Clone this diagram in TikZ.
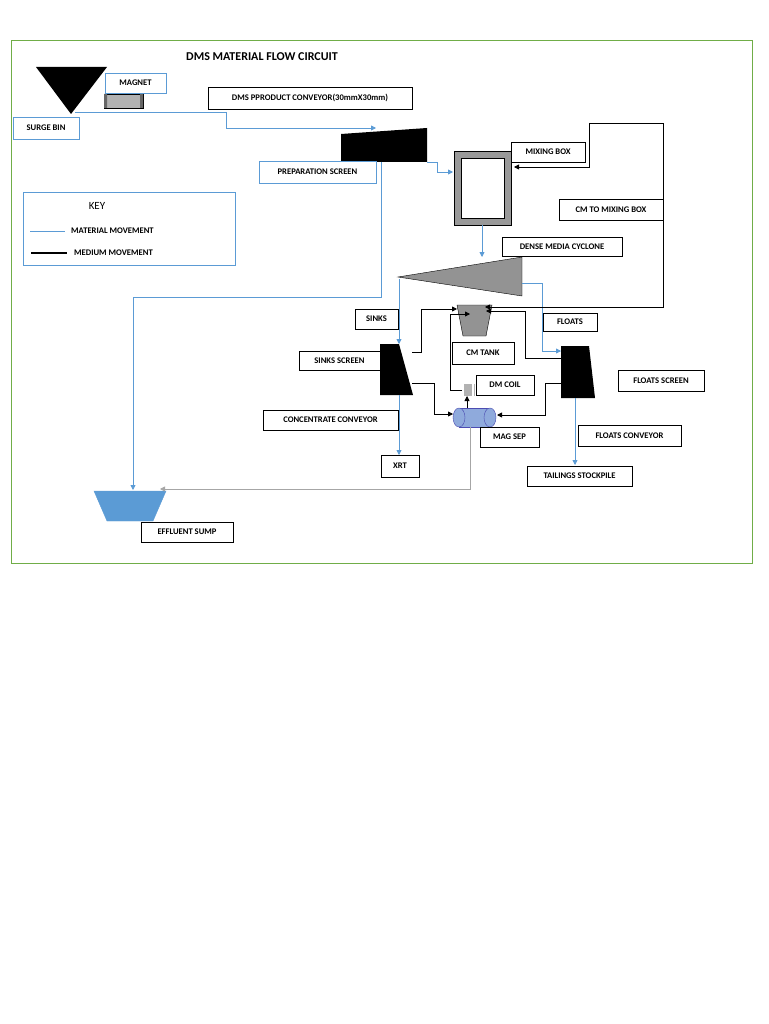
\documentclass[tikz,border=0pt]{standalone}
\usepackage{fontspec}
\setmainfont{Carlito}
\usetikzlibrary{arrows.meta}
\definecolor{mat}{RGB}{91,155,213}
\definecolor{frm}{RGB}{112,173,71}
\definecolor{msep}{RGB}{143,170,220}
\begin{document}
\begin{tikzpicture}[x=1pt,y=-1pt,
 lbl/.style={draw=black,line width=0.8pt,fill=white,font=\fontsize{8.6}{9}\selectfont\bfseries,inner sep=0pt},
 blbl/.style={lbl,draw=mat},
 mat/.style={draw=mat,line width=0.8pt,-{Triangle[length=5pt,width=5pt]}},
 med/.style={draw=black,line width=0.8pt,-{Triangle[length=5pt,width=5pt]}},
 matn/.style={draw=mat,line width=0.8pt},
 medn/.style={draw=black,line width=0.8pt}]
\useasboundingbox (0,0) rectangle (768,1024);
\fill[white] (0,0) rectangle (768,1024);
\draw[frm,line width=1pt] (11,41) rectangle (752,563);
\node[font=\fontsize{12}{13}\selectfont\bfseries] (title) at (262,57) {DMS MATERIAL FLOW CIRCUIT};
% equipment
\fill (36,67) -- (107,67) -- (71,114) -- cycle;
\draw[fill=gray!60] (104,94) rectangle (143,108);
\fill[black!60] (104,94) rectangle (107,108) (140,94) rectangle (143,108);
\fill (341,134) -- (427,128) -- (427,162) -- (341,162) -- cycle;
\draw[fill=gray!80] (454,151) rectangle (511,225);
\draw[fill=white] (461,158) rectangle (504,218);
\draw[fill=gray!85] (398,277) -- (522,257) -- (522,296) -- cycle;
\fill (380,344) -- (399,344) -- (413,395) -- (380,395) -- cycle;
\fill (561,346) -- (589,346) -- (595,398) -- (561,398) -- cycle;
\draw[fill=gray!85] (457,305) -- (492,305) -- (486,336) -- (463,336) -- cycle;
\fill[gray!60] (464,384) rectangle (472,396);
\draw[gray!60,line width=1pt] (474,384) -- (474,396);
\fill[msep] (459,408) rectangle (490,427);
\draw[blue!40!gray] (459,408) -- (490,408) (459,427) -- (490,427);
\draw[blue!40!gray,fill=msep] (459,417.5) ellipse[x radius=6,y radius=9.5];
\draw[blue!40!gray,fill=msep] (490,417.5) ellipse[x radius=6,y radius=9.5];
\draw[draw=mat,fill=mat] (94,491) -- (166,491) -- (153,521) -- (107,521) -- cycle;
% labels
\node[blbl,minimum width=61pt,minimum height=20pt] (magnet) at (135.5,83) {MAGNET};
\node[blbl,minimum width=66pt,minimum height=22pt] (surge) at (46,128) {SURGE BIN};
\node[lbl,minimum width=204pt,minimum height=22pt] (conv) at (310,98) {DMS PPRODUCT CONVEYOR(30mmX30mm)};
\node[blbl,minimum width=117pt,minimum height=22pt] (prep) at (317.5,172) {PREPARATION SCREEN};
\node[lbl,minimum width=74pt,minimum height=20pt] (mixl) at (548,152) {MIXING BOX};
\node[lbl,minimum width=104pt,minimum height=21pt] (cml) at (611,209.5) {CM TO MIXING BOX};
\node[lbl,minimum width=120pt,minimum height=19pt] (dmc) at (562,246.5) {DENSE MEDIA CYCLONE};
\node[lbl,minimum width=43pt,minimum height=20pt] (sinks) at (376.5,319) {SINKS};
\node[lbl,minimum width=54pt,minimum height=18pt] (floats) at (570,322) {FLOATS};
\node[lbl,minimum width=62pt,minimum height=22pt] (cmt) at (483,353) {CM TANK};
\node[lbl,minimum width=81pt,minimum height=19pt] (ssl) at (339.5,360.5) {SINKS SCREEN};
\node[lbl,minimum width=58pt,minimum height=20pt] (dml) at (505,385) {DM COIL};
\node[lbl,minimum width=86pt,minimum height=21pt] (fsl) at (661,380.5) {FLOATS SCREEN};
\node[lbl,minimum width=135pt,minimum height=20pt] (ccl) at (330.5,420) {CONCENTRATE CONVEYOR};
\node[lbl,minimum width=59pt,minimum height=20pt] (msl) at (509.5,437) {MAG SEP};
\node[lbl,minimum width=103pt,minimum height=21pt] (fcl) at (629.5,435.5) {FLOATS CONVEYOR};
\node[lbl,minimum width=38pt,minimum height=22pt] (xrt) at (400,466) {XRT};
\node[lbl,minimum width=105pt,minimum height=20pt] (tail) at (579.5,476) {TAILINGS STOCKPILE};
\node[lbl,minimum width=92pt,minimum height=20pt] (eff) at (187,532) {EFFLUENT SUMP};
% key
\draw[mat,line width=1pt] (23,193) rectangle (235,265);
\node[font=\fontsize{11}{12}\selectfont] (key) at (97,206) {KEY};
\draw[matn] (30,231) -- (65,231);
\node[anchor=west,font=\fontsize{8.6}{9}\selectfont\bfseries,inner sep=0pt] (km) at (71,231) {MATERIAL MOVEMENT};
\draw[medn,line width=1.3pt] (31,253) -- (67,253);
\node[anchor=west,font=\fontsize{8.6}{9}\selectfont\bfseries,inner sep=0pt] (kd) at (74,253) {MEDIUM MOVEMENT};
% material flows
\draw[mat] (75,112) -- (226,112) -- (226,128) -- (376,128);
\draw[mat] (427,162) -- (437,162) -- (437,172) -- (453,172);
\draw[mat] (381,162) -- (381,297) -- (133,297) -- (133,490);
\draw[mat] (482,225) -- (482,257);
\draw[mat] (399,279) -- (399,344);
\draw[mat] (522,283) -- (542,283) -- (542,351) -- (561,351);
\draw[mat] (399,395) -- (399,455);
\draw[mat] (575,398) -- (575,465);
\draw[draw=gray!70,line width=0.8pt,-{Triangle[length=5pt,width=5pt]}] (470,427) -- (470,489) -- (160,489);
% medium flows
\draw[med] (589,123) -- (663,123) -- (663,307) -- (485,307);
\draw[med] (589,123) -- (589,167) -- (514,167);
\draw[med] (412,352) -- (421,352) -- (421,309) -- (457,309);
\draw[med] (462,390) -- (450,390) -- (450,314) -- (470,314);
\draw[med] (562,358) -- (525,358) -- (525,311) -- (486,311);
\draw[med] (412,383) -- (434,383) -- (434,414) -- (453,414);
\draw[med] (562,383) -- (545,383) -- (545,415) -- (497,415);
\draw[med] (467,408) -- (467,396);
\end{tikzpicture}
\end{document}
